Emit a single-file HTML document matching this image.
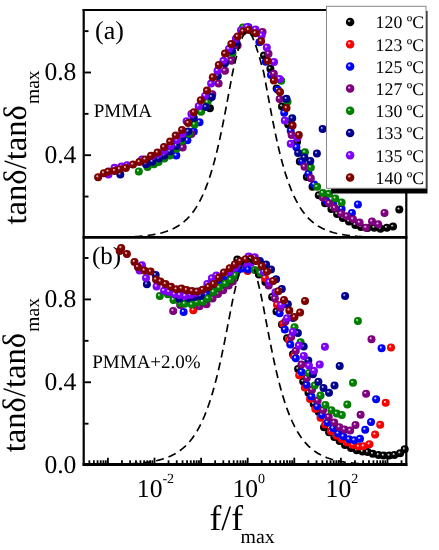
<!DOCTYPE html><html><head><meta charset="utf-8"><style>html,body{margin:0;padding:0;background:#fff;}svg{display:block;}text{font-family:"Liberation Serif",serif;fill:#000;text-rendering:geometricPrecision;}svg{will-change:transform;}</style></head><body>
<svg width="439" height="550" viewBox="0 0 439 550">
<defs>
<radialGradient id="g120" cx="0.5" cy="0.5" r="0.5" fx="0.36" fy="0.34"><stop offset="0" stop-color="#fff"/><stop offset="0.16" stop-color="#9a9a9a"/><stop offset="0.38" stop-color="#000000"/><stop offset="0.85" stop-color="#000000"/><stop offset="1" stop-color="#000000"/></radialGradient>
<radialGradient id="g123" cx="0.5" cy="0.5" r="0.5" fx="0.36" fy="0.34"><stop offset="0" stop-color="#fff"/><stop offset="0.16" stop-color="#ffb0b0"/><stop offset="0.38" stop-color="#ff0000"/><stop offset="0.85" stop-color="#ff0000"/><stop offset="1" stop-color="#d00000"/></radialGradient>
<radialGradient id="g125" cx="0.5" cy="0.5" r="0.5" fx="0.36" fy="0.34"><stop offset="0" stop-color="#fff"/><stop offset="0.16" stop-color="#b0b0ff"/><stop offset="0.38" stop-color="#0000ff"/><stop offset="0.85" stop-color="#0000ff"/><stop offset="1" stop-color="#0000d0"/></radialGradient>
<radialGradient id="g127" cx="0.5" cy="0.5" r="0.5" fx="0.36" fy="0.34"><stop offset="0" stop-color="#fff"/><stop offset="0.16" stop-color="#d090d0"/><stop offset="0.38" stop-color="#800080"/><stop offset="0.85" stop-color="#800080"/><stop offset="1" stop-color="#680068"/></radialGradient>
<radialGradient id="g130" cx="0.5" cy="0.5" r="0.5" fx="0.36" fy="0.34"><stop offset="0" stop-color="#fff"/><stop offset="0.16" stop-color="#90d090"/><stop offset="0.38" stop-color="#008000"/><stop offset="0.85" stop-color="#008000"/><stop offset="1" stop-color="#006400"/></radialGradient>
<radialGradient id="g133" cx="0.5" cy="0.5" r="0.5" fx="0.36" fy="0.34"><stop offset="0" stop-color="#fff"/><stop offset="0.16" stop-color="#8080d0"/><stop offset="0.38" stop-color="#000090"/><stop offset="0.85" stop-color="#000090"/><stop offset="1" stop-color="#000070"/></radialGradient>
<radialGradient id="g135" cx="0.5" cy="0.5" r="0.5" fx="0.36" fy="0.34"><stop offset="0" stop-color="#fff"/><stop offset="0.16" stop-color="#d0a0ff"/><stop offset="0.38" stop-color="#8000ff"/><stop offset="0.85" stop-color="#8000ff"/><stop offset="1" stop-color="#6800d0"/></radialGradient>
<radialGradient id="g140" cx="0.5" cy="0.5" r="0.5" fx="0.36" fy="0.34"><stop offset="0" stop-color="#fff"/><stop offset="0.16" stop-color="#d09090"/><stop offset="0.38" stop-color="#800000"/><stop offset="0.85" stop-color="#800000"/><stop offset="1" stop-color="#680000"/></radialGradient>
</defs>
<rect width="439" height="550" fill="#fff"/>
<g stroke="#000" fill="none">
<line x1="82.6" y1="9.9" x2="330" y2="9.9" stroke-width="2"/>
<line x1="83.7" y1="9" x2="83.7" y2="465.8" stroke-width="2.2"/>
<line x1="406.3" y1="9" x2="406.3" y2="465.8" stroke-width="2.2"/>
<line x1="82.6" y1="237.3" x2="407.4" y2="237.3" stroke-width="2.8"/>
<line x1="82.6" y1="464.5" x2="407.4" y2="464.5" stroke-width="2.8"/>
<line x1="89.36" y1="463.5" x2="89.36" y2="460.30" stroke-width="1.8"/>
<line x1="93.87" y1="463.5" x2="93.87" y2="460.30" stroke-width="1.8"/>
<line x1="97.56" y1="463.5" x2="97.56" y2="460.30" stroke-width="1.8"/>
<line x1="100.68" y1="463.5" x2="100.68" y2="460.30" stroke-width="1.8"/>
<line x1="103.38" y1="463.5" x2="103.38" y2="460.30" stroke-width="1.8"/>
<line x1="105.77" y1="463.5" x2="105.77" y2="460.30" stroke-width="1.8"/>
<line x1="107.90" y1="463.5" x2="107.90" y2="457.70" stroke-width="1.8"/>
<line x1="121.93" y1="463.5" x2="121.93" y2="460.30" stroke-width="1.8"/>
<line x1="130.13" y1="463.5" x2="130.13" y2="460.30" stroke-width="1.8"/>
<line x1="135.96" y1="463.5" x2="135.96" y2="460.30" stroke-width="1.8"/>
<line x1="140.47" y1="463.5" x2="140.47" y2="460.30" stroke-width="1.8"/>
<line x1="144.16" y1="463.5" x2="144.16" y2="460.30" stroke-width="1.8"/>
<line x1="147.28" y1="463.5" x2="147.28" y2="460.30" stroke-width="1.8"/>
<line x1="149.98" y1="463.5" x2="149.98" y2="460.30" stroke-width="1.8"/>
<line x1="152.37" y1="463.5" x2="152.37" y2="460.30" stroke-width="1.8"/>
<line x1="154.50" y1="463.5" x2="154.50" y2="457.70" stroke-width="1.8"/>
<line x1="168.53" y1="463.5" x2="168.53" y2="460.30" stroke-width="1.8"/>
<line x1="176.73" y1="463.5" x2="176.73" y2="460.30" stroke-width="1.8"/>
<line x1="182.56" y1="463.5" x2="182.56" y2="460.30" stroke-width="1.8"/>
<line x1="187.07" y1="463.5" x2="187.07" y2="460.30" stroke-width="1.8"/>
<line x1="190.76" y1="463.5" x2="190.76" y2="460.30" stroke-width="1.8"/>
<line x1="193.88" y1="463.5" x2="193.88" y2="460.30" stroke-width="1.8"/>
<line x1="196.58" y1="463.5" x2="196.58" y2="460.30" stroke-width="1.8"/>
<line x1="198.97" y1="463.5" x2="198.97" y2="460.30" stroke-width="1.8"/>
<line x1="201.10" y1="463.5" x2="201.10" y2="457.70" stroke-width="1.8"/>
<line x1="215.13" y1="463.5" x2="215.13" y2="460.30" stroke-width="1.8"/>
<line x1="223.33" y1="463.5" x2="223.33" y2="460.30" stroke-width="1.8"/>
<line x1="229.16" y1="463.5" x2="229.16" y2="460.30" stroke-width="1.8"/>
<line x1="233.67" y1="463.5" x2="233.67" y2="460.30" stroke-width="1.8"/>
<line x1="237.36" y1="463.5" x2="237.36" y2="460.30" stroke-width="1.8"/>
<line x1="240.48" y1="463.5" x2="240.48" y2="460.30" stroke-width="1.8"/>
<line x1="243.18" y1="463.5" x2="243.18" y2="460.30" stroke-width="1.8"/>
<line x1="245.57" y1="463.5" x2="245.57" y2="460.30" stroke-width="1.8"/>
<line x1="247.70" y1="463.5" x2="247.70" y2="457.70" stroke-width="1.8"/>
<line x1="261.73" y1="463.5" x2="261.73" y2="460.30" stroke-width="1.8"/>
<line x1="269.93" y1="463.5" x2="269.93" y2="460.30" stroke-width="1.8"/>
<line x1="275.76" y1="463.5" x2="275.76" y2="460.30" stroke-width="1.8"/>
<line x1="280.27" y1="463.5" x2="280.27" y2="460.30" stroke-width="1.8"/>
<line x1="283.96" y1="463.5" x2="283.96" y2="460.30" stroke-width="1.8"/>
<line x1="287.08" y1="463.5" x2="287.08" y2="460.30" stroke-width="1.8"/>
<line x1="289.78" y1="463.5" x2="289.78" y2="460.30" stroke-width="1.8"/>
<line x1="292.17" y1="463.5" x2="292.17" y2="460.30" stroke-width="1.8"/>
<line x1="294.30" y1="463.5" x2="294.30" y2="457.70" stroke-width="1.8"/>
<line x1="308.33" y1="463.5" x2="308.33" y2="460.30" stroke-width="1.8"/>
<line x1="316.53" y1="463.5" x2="316.53" y2="460.30" stroke-width="1.8"/>
<line x1="322.36" y1="463.5" x2="322.36" y2="460.30" stroke-width="1.8"/>
<line x1="326.87" y1="463.5" x2="326.87" y2="460.30" stroke-width="1.8"/>
<line x1="330.56" y1="463.5" x2="330.56" y2="460.30" stroke-width="1.8"/>
<line x1="333.68" y1="463.5" x2="333.68" y2="460.30" stroke-width="1.8"/>
<line x1="336.38" y1="463.5" x2="336.38" y2="460.30" stroke-width="1.8"/>
<line x1="338.77" y1="463.5" x2="338.77" y2="460.30" stroke-width="1.8"/>
<line x1="340.90" y1="463.5" x2="340.90" y2="457.70" stroke-width="1.8"/>
<line x1="354.93" y1="463.5" x2="354.93" y2="460.30" stroke-width="1.8"/>
<line x1="363.13" y1="463.5" x2="363.13" y2="460.30" stroke-width="1.8"/>
<line x1="368.96" y1="463.5" x2="368.96" y2="460.30" stroke-width="1.8"/>
<line x1="373.47" y1="463.5" x2="373.47" y2="460.30" stroke-width="1.8"/>
<line x1="377.16" y1="463.5" x2="377.16" y2="460.30" stroke-width="1.8"/>
<line x1="380.28" y1="463.5" x2="380.28" y2="460.30" stroke-width="1.8"/>
<line x1="382.98" y1="463.5" x2="382.98" y2="460.30" stroke-width="1.8"/>
<line x1="385.37" y1="463.5" x2="385.37" y2="460.30" stroke-width="1.8"/>
<line x1="387.50" y1="463.5" x2="387.50" y2="457.70" stroke-width="1.8"/>
<line x1="401.53" y1="463.5" x2="401.53" y2="460.30" stroke-width="1.8"/>
<line x1="84.5" y1="196.55" x2="88.50" y2="196.55" stroke-width="1.9"/>
<line x1="84.5" y1="155.20" x2="91.00" y2="155.20" stroke-width="1.9"/>
<line x1="84.5" y1="113.85" x2="88.50" y2="113.85" stroke-width="1.9"/>
<line x1="84.5" y1="72.50" x2="91.00" y2="72.50" stroke-width="1.9"/>
<line x1="84.5" y1="31.15" x2="88.50" y2="31.15" stroke-width="1.9"/>
<line x1="84.5" y1="465.10" x2="91.00" y2="465.10" stroke-width="1.9"/>
<line x1="84.5" y1="423.68" x2="88.50" y2="423.68" stroke-width="1.9"/>
<line x1="84.5" y1="382.26" x2="91.00" y2="382.26" stroke-width="1.9"/>
<line x1="84.5" y1="340.84" x2="88.50" y2="340.84" stroke-width="1.9"/>
<line x1="84.5" y1="299.42" x2="91.00" y2="299.42" stroke-width="1.9"/>
<line x1="84.5" y1="258.00" x2="88.50" y2="258.00" stroke-width="1.9"/>
</g>
<text x="76.4" y="162.70" font-size="25.6" text-anchor="end">0.4</text>
<text x="76.4" y="80.00" font-size="25.6" text-anchor="end">0.8</text>
<text x="76.4" y="472.60" font-size="25.6" text-anchor="end">0.0</text>
<text x="76.4" y="389.76" font-size="25.6" text-anchor="end">0.4</text>
<text x="76.4" y="306.92" font-size="25.6" text-anchor="end">0.8</text>
<text x="155.50" y="496.6" font-size="25.6" text-anchor="middle">10<tspan font-size="14" dy="-14">-2</tspan></text>
<text x="248.70" y="496.6" font-size="25.6" text-anchor="middle">10<tspan font-size="14" dy="-14">0</tspan></text>
<text x="341.90" y="496.6" font-size="25.6" text-anchor="middle">10<tspan font-size="14" dy="-14">2</tspan></text>
<text x="95" y="38.5" font-size="26">(a)</text>
<text x="91.9" y="263.9" font-size="25">(b)</text>
<text x="93.8" y="116.8" font-size="19">PMMA</text>
<text x="92.3" y="367.7" font-size="19">PMMA+2.0%</text>
<text x="209.5" y="529.6" font-size="35.5">f/f<tspan font-size="19.8" dx="-2.5" dy="13.3">max</tspan></text>
<text transform="translate(25.9,224.5) rotate(-90)" font-size="32.6">tanδ/tanδ<tspan font-size="19.5" dx="1.2" dy="13.4">max</tspan></text>
<text transform="translate(25.4,452.2) rotate(-90)" font-size="32.6">tanδ/tanδ<tspan font-size="19.5" dx="1.2" dy="13.4">max</tspan></text>
<circle cx="209.9" cy="108.2" r="4.0" fill="url(#g120)"/>
<circle cx="264" cy="55.6" r="4.0" fill="url(#g120)"/>
<circle cx="270.4" cy="68.7" r="4.0" fill="url(#g120)"/>
<circle cx="276.6" cy="88.6" r="4.0" fill="url(#g120)"/>
<circle cx="282" cy="106.4" r="4.0" fill="url(#g120)"/>
<circle cx="288.2" cy="124.6" r="4.0" fill="url(#g120)"/>
<circle cx="297" cy="142.1" r="4.0" fill="url(#g120)"/>
<circle cx="299.8" cy="161.4" r="4.0" fill="url(#g120)"/>
<circle cx="306.8" cy="177.1" r="4.0" fill="url(#g120)"/>
<circle cx="312.5" cy="186.8" r="4.0" fill="url(#g120)"/>
<circle cx="318.8" cy="195.3" r="4.0" fill="url(#g120)"/>
<circle cx="325.1" cy="203.2" r="4.0" fill="url(#g120)"/>
<circle cx="331.4" cy="208.9" r="4.0" fill="url(#g120)"/>
<circle cx="337.1" cy="214" r="4.0" fill="url(#g120)"/>
<circle cx="342.8" cy="218" r="4.0" fill="url(#g120)"/>
<circle cx="349" cy="221.4" r="4.0" fill="url(#g120)"/>
<circle cx="355.3" cy="224.9" r="4.0" fill="url(#g120)"/>
<circle cx="361" cy="227" r="4.0" fill="url(#g120)"/>
<circle cx="367.5" cy="228" r="4.0" fill="url(#g120)"/>
<circle cx="374.2" cy="227.7" r="4.0" fill="url(#g120)"/>
<circle cx="380.5" cy="228.8" r="4.0" fill="url(#g120)"/>
<circle cx="386.8" cy="227.7" r="4.0" fill="url(#g120)"/>
<circle cx="393" cy="226.6" r="4.0" fill="url(#g120)"/>
<circle cx="399.3" cy="209.5" r="4.0" fill="url(#g120)"/>
<circle cx="176.3" cy="155.5" r="4.0" fill="url(#g125)"/>
<circle cx="182.4" cy="147.1" r="4.0" fill="url(#g125)"/>
<circle cx="199.5" cy="122.2" r="4.0" fill="url(#g125)"/>
<circle cx="193.8" cy="131.5" r="4.0" fill="url(#g125)"/>
<circle cx="209.3" cy="98.5" r="4.0" fill="url(#g125)"/>
<circle cx="248.5" cy="27.2" r="4.0" fill="url(#g125)"/>
<circle cx="259.4" cy="42.3" r="4.0" fill="url(#g125)"/>
<circle cx="265.8" cy="61.8" r="4.0" fill="url(#g125)"/>
<circle cx="271" cy="75" r="4.0" fill="url(#g125)"/>
<circle cx="277.8" cy="89.7" r="4.0" fill="url(#g125)"/>
<circle cx="286.3" cy="98.8" r="4.0" fill="url(#g125)"/>
<circle cx="284.2" cy="112.7" r="4.0" fill="url(#g125)"/>
<circle cx="290.7" cy="130.7" r="4.0" fill="url(#g125)"/>
<circle cx="296.4" cy="147.2" r="4.0" fill="url(#g125)"/>
<circle cx="302.1" cy="161.4" r="4.0" fill="url(#g125)"/>
<circle cx="308.5" cy="173.7" r="4.0" fill="url(#g125)"/>
<circle cx="314.2" cy="184.5" r="4.0" fill="url(#g125)"/>
<circle cx="326.3" cy="201" r="4.0" fill="url(#g125)"/>
<circle cx="333" cy="203.8" r="4.0" fill="url(#g125)"/>
<circle cx="341.6" cy="208.9" r="4.0" fill="url(#g125)"/>
<circle cx="351.9" cy="212.9" r="4.0" fill="url(#g125)"/>
<circle cx="357.9" cy="204.4" r="4.0" fill="url(#g125)"/>
<circle cx="187.4" cy="140.3" r="4.0" fill="url(#g125)"/>
<circle cx="212.3" cy="94.3" r="4.0" fill="url(#g127)"/>
<circle cx="231.3" cy="57.6" r="4.0" fill="url(#g127)"/>
<circle cx="237.6" cy="45.6" r="4.0" fill="url(#g127)"/>
<circle cx="262.5" cy="32" r="4.0" fill="url(#g127)"/>
<circle cx="268.5" cy="53.7" r="4.0" fill="url(#g127)"/>
<circle cx="273.8" cy="73.8" r="4.0" fill="url(#g127)"/>
<circle cx="279.6" cy="98.9" r="4.0" fill="url(#g127)"/>
<circle cx="291.6" cy="134.9" r="4.0" fill="url(#g127)"/>
<circle cx="304.5" cy="166.7" r="4.0" fill="url(#g127)"/>
<circle cx="310.8" cy="178.2" r="4.0" fill="url(#g127)"/>
<circle cx="322.8" cy="197.5" r="4.0" fill="url(#g127)"/>
<circle cx="329.1" cy="203.2" r="4.0" fill="url(#g127)"/>
<circle cx="334.8" cy="208" r="4.0" fill="url(#g127)"/>
<circle cx="341.1" cy="213.5" r="4.0" fill="url(#g127)"/>
<circle cx="346.8" cy="216.3" r="4.0" fill="url(#g127)"/>
<circle cx="353" cy="219.2" r="4.0" fill="url(#g127)"/>
<circle cx="359.6" cy="222.6" r="4.0" fill="url(#g127)"/>
<circle cx="366" cy="227.7" r="4.0" fill="url(#g127)"/>
<circle cx="372" cy="221.4" r="4.0" fill="url(#g127)"/>
<circle cx="378.2" cy="224.3" r="4.0" fill="url(#g127)"/>
<circle cx="384.5" cy="212.9" r="4.0" fill="url(#g127)"/>
<circle cx="218.6" cy="83.6" r="4.0" fill="url(#g127)"/>
<circle cx="225" cy="70.8" r="4.0" fill="url(#g127)"/>
<circle cx="231.4" cy="60.8" r="4.0" fill="url(#g127)"/>
<circle cx="182.6" cy="147.5" r="4.0" fill="url(#g127)"/>
<circle cx="191.4" cy="133.9" r="4.0" fill="url(#g127)"/>
<circle cx="138.8" cy="171.4" r="4.0" fill="url(#g130)"/>
<circle cx="147.5" cy="166.9" r="4.0" fill="url(#g130)"/>
<circle cx="153.9" cy="164.2" r="4.0" fill="url(#g130)"/>
<circle cx="158.5" cy="162.1" r="4.0" fill="url(#g130)"/>
<circle cx="164.3" cy="158.6" r="4.0" fill="url(#g130)"/>
<circle cx="169.9" cy="155.5" r="4.0" fill="url(#g130)"/>
<circle cx="176.3" cy="149.1" r="4.0" fill="url(#g130)"/>
<circle cx="181.8" cy="141.1" r="4.0" fill="url(#g130)"/>
<circle cx="189" cy="133.9" r="4.0" fill="url(#g130)"/>
<circle cx="194.6" cy="124.4" r="4.0" fill="url(#g130)"/>
<circle cx="201.1" cy="111.8" r="4.0" fill="url(#g130)"/>
<circle cx="207.5" cy="102.3" r="4.0" fill="url(#g130)"/>
<circle cx="232.5" cy="53" r="4.0" fill="url(#g130)"/>
<circle cx="243" cy="27.5" r="4.0" fill="url(#g130)"/>
<circle cx="281.2" cy="80.8" r="4.0" fill="url(#g130)"/>
<circle cx="287.5" cy="101.7" r="4.0" fill="url(#g130)"/>
<circle cx="304.9" cy="152.3" r="4.0" fill="url(#g130)"/>
<circle cx="310.8" cy="167.4" r="4.0" fill="url(#g130)"/>
<circle cx="317.1" cy="186.8" r="4.0" fill="url(#g130)"/>
<circle cx="322.8" cy="193" r="4.0" fill="url(#g130)"/>
<circle cx="329" cy="193.8" r="4.0" fill="url(#g130)"/>
<circle cx="335.3" cy="198.4" r="4.0" fill="url(#g130)"/>
<circle cx="341.6" cy="202.4" r="4.0" fill="url(#g130)"/>
<circle cx="120.3" cy="174.6" r="4.0" fill="url(#g133)"/>
<circle cx="146" cy="164.2" r="4.0" fill="url(#g133)"/>
<circle cx="164.3" cy="155.5" r="4.0" fill="url(#g133)"/>
<circle cx="169.9" cy="151.5" r="4.0" fill="url(#g133)"/>
<circle cx="176.3" cy="145.9" r="4.0" fill="url(#g133)"/>
<circle cx="188.2" cy="131.5" r="4.0" fill="url(#g133)"/>
<circle cx="193.8" cy="118" r="4.0" fill="url(#g133)"/>
<circle cx="205.9" cy="107" r="4.0" fill="url(#g133)"/>
<circle cx="211.8" cy="97" r="4.0" fill="url(#g133)"/>
<circle cx="225" cy="63.2" r="4.0" fill="url(#g133)"/>
<circle cx="231.9" cy="50.8" r="4.0" fill="url(#g133)"/>
<circle cx="236.4" cy="42.2" r="4.0" fill="url(#g133)"/>
<circle cx="292.2" cy="118.3" r="4.0" fill="url(#g133)"/>
<circle cx="322.6" cy="129" r="4.0" fill="url(#g133)"/>
<circle cx="298.1" cy="152.9" r="4.0" fill="url(#g133)"/>
<circle cx="304.4" cy="157.5" r="4.0" fill="url(#g133)"/>
<circle cx="310.3" cy="161.1" r="4.0" fill="url(#g133)"/>
<circle cx="316.9" cy="153.5" r="4.0" fill="url(#g133)"/>
<circle cx="217.8" cy="76" r="4.0" fill="url(#g133)"/>
<circle cx="152.3" cy="161.8" r="4.0" fill="url(#g133)"/>
<circle cx="158.7" cy="158.6" r="4.0" fill="url(#g133)"/>
<circle cx="181.8" cy="137.9" r="4.0" fill="url(#g133)"/>
<circle cx="286.4" cy="99" r="4.0" fill="url(#g133)"/>
<circle cx="108.5" cy="174.5" r="4.0" fill="url(#g135)"/>
<circle cx="114.5" cy="167.8" r="4.0" fill="url(#g135)"/>
<circle cx="121.5" cy="166.6" r="4.0" fill="url(#g135)"/>
<circle cx="127" cy="165.3" r="4.0" fill="url(#g135)"/>
<circle cx="142" cy="159.4" r="4.0" fill="url(#g135)"/>
<circle cx="152.3" cy="156.3" r="4.0" fill="url(#g135)"/>
<circle cx="164.3" cy="150.7" r="4.0" fill="url(#g135)"/>
<circle cx="177" cy="140.3" r="4.0" fill="url(#g135)"/>
<circle cx="182.6" cy="133.9" r="4.0" fill="url(#g135)"/>
<circle cx="186.6" cy="121.2" r="4.0" fill="url(#g135)"/>
<circle cx="198.7" cy="106.3" r="4.0" fill="url(#g135)"/>
<circle cx="205.1" cy="95.9" r="4.0" fill="url(#g135)"/>
<circle cx="223.4" cy="60.8" r="4.0" fill="url(#g135)"/>
<circle cx="229" cy="49" r="4.0" fill="url(#g135)"/>
<circle cx="235.9" cy="38.8" r="4.0" fill="url(#g135)"/>
<circle cx="241" cy="30.3" r="4.0" fill="url(#g135)"/>
<circle cx="247.3" cy="26.9" r="4.0" fill="url(#g135)"/>
<circle cx="255.5" cy="29.5" r="4.0" fill="url(#g135)"/>
<circle cx="261.6" cy="35.5" r="4.0" fill="url(#g135)"/>
<circle cx="266.8" cy="47.5" r="4.0" fill="url(#g135)"/>
<circle cx="274" cy="62" r="4.0" fill="url(#g135)"/>
<circle cx="279.5" cy="78.9" r="4.0" fill="url(#g135)"/>
<circle cx="284.8" cy="120.6" r="4.0" fill="url(#g135)"/>
<circle cx="290.7" cy="143.8" r="4.0" fill="url(#g135)"/>
<circle cx="297.4" cy="138" r="4.0" fill="url(#g135)"/>
<circle cx="211.1" cy="83.6" r="4.0" fill="url(#g135)"/>
<circle cx="217.5" cy="70.8" r="4.0" fill="url(#g135)"/>
<circle cx="158.7" cy="153.9" r="4.0" fill="url(#g135)"/>
<circle cx="170.7" cy="145.9" r="4.0" fill="url(#g135)"/>
<circle cx="191.4" cy="114" r="4.0" fill="url(#g135)"/>
<circle cx="98.1" cy="177.2" r="4.0" fill="url(#g140)"/>
<circle cx="103.8" cy="173.2" r="4.0" fill="url(#g140)"/>
<circle cx="108.3" cy="171.5" r="4.0" fill="url(#g140)"/>
<circle cx="114.8" cy="170.9" r="4.0" fill="url(#g140)"/>
<circle cx="119.7" cy="169.2" r="4.0" fill="url(#g140)"/>
<circle cx="125.8" cy="168" r="4.0" fill="url(#g140)"/>
<circle cx="133" cy="164.5" r="4.0" fill="url(#g140)"/>
<circle cx="139.4" cy="162.1" r="4.0" fill="url(#g140)"/>
<circle cx="145.2" cy="159.4" r="4.0" fill="url(#g140)"/>
<circle cx="151" cy="155.7" r="4.0" fill="url(#g140)"/>
<circle cx="157.5" cy="152.5" r="4.0" fill="url(#g140)"/>
<circle cx="164" cy="147.1" r="4.0" fill="url(#g140)"/>
<circle cx="170.1" cy="141.6" r="4.0" fill="url(#g140)"/>
<circle cx="175.7" cy="135.6" r="4.0" fill="url(#g140)"/>
<circle cx="182" cy="129.9" r="4.0" fill="url(#g140)"/>
<circle cx="188.2" cy="123" r="4.0" fill="url(#g140)"/>
<circle cx="193.9" cy="112.2" r="4.0" fill="url(#g140)"/>
<circle cx="200.8" cy="100.3" r="4.0" fill="url(#g140)"/>
<circle cx="207" cy="90.6" r="4.0" fill="url(#g140)"/>
<circle cx="212.8" cy="77.3" r="4.0" fill="url(#g140)"/>
<circle cx="218.8" cy="65" r="4.0" fill="url(#g140)"/>
<circle cx="225" cy="53.6" r="4.0" fill="url(#g140)"/>
<circle cx="231.3" cy="43.9" r="4.0" fill="url(#g140)"/>
<circle cx="237.6" cy="36.5" r="4.0" fill="url(#g140)"/>
<circle cx="243" cy="31.4" r="4.0" fill="url(#g140)"/>
<circle cx="248.6" cy="30" r="4.0" fill="url(#g140)"/>
<circle cx="255.4" cy="33.2" r="4.0" fill="url(#g140)"/>
<circle cx="261.1" cy="41.2" r="4.0" fill="url(#g140)"/>
<circle cx="267.7" cy="61" r="4.0" fill="url(#g140)"/>
<circle cx="273.8" cy="80.6" r="4.0" fill="url(#g140)"/>
<circle cx="280" cy="92" r="4.0" fill="url(#g140)"/>
<circle cx="286.5" cy="108.1" r="4.0" fill="url(#g140)"/>
<circle cx="292.6" cy="125.6" r="4.0" fill="url(#g140)"/>
<circle cx="298.8" cy="135.1" r="4.0" fill="url(#g140)"/>
<circle cx="237.3" cy="259.6" r="4.0" fill="url(#g120)"/>
<circle cx="259" cy="274.6" r="4.0" fill="url(#g120)"/>
<circle cx="265.4" cy="282" r="4.0" fill="url(#g120)"/>
<circle cx="272.1" cy="296.9" r="4.0" fill="url(#g120)"/>
<circle cx="276.5" cy="311.5" r="4.0" fill="url(#g120)"/>
<circle cx="282" cy="324.5" r="4.0" fill="url(#g120)"/>
<circle cx="287.1" cy="338.2" r="4.0" fill="url(#g120)"/>
<circle cx="293" cy="354.2" r="4.0" fill="url(#g120)"/>
<circle cx="298.1" cy="369" r="4.0" fill="url(#g120)"/>
<circle cx="303.2" cy="381.5" r="4.0" fill="url(#g120)"/>
<circle cx="308.5" cy="392.7" r="4.0" fill="url(#g120)"/>
<circle cx="313.7" cy="404" r="4.0" fill="url(#g120)"/>
<circle cx="318.8" cy="412" r="4.0" fill="url(#g120)"/>
<circle cx="324" cy="427.2" r="4.0" fill="url(#g120)"/>
<circle cx="329.1" cy="432.3" r="4.0" fill="url(#g120)"/>
<circle cx="334.3" cy="437" r="4.0" fill="url(#g120)"/>
<circle cx="339.6" cy="441" r="4.0" fill="url(#g120)"/>
<circle cx="345" cy="445" r="4.0" fill="url(#g120)"/>
<circle cx="351" cy="448" r="4.0" fill="url(#g120)"/>
<circle cx="356.7" cy="450.3" r="4.0" fill="url(#g120)"/>
<circle cx="362.6" cy="451.6" r="4.0" fill="url(#g120)"/>
<circle cx="367.7" cy="452.1" r="4.0" fill="url(#g120)"/>
<circle cx="372.8" cy="453.8" r="4.0" fill="url(#g120)"/>
<circle cx="378.5" cy="455" r="4.0" fill="url(#g120)"/>
<circle cx="383.6" cy="455.6" r="4.0" fill="url(#g120)"/>
<circle cx="389.3" cy="455.6" r="4.0" fill="url(#g120)"/>
<circle cx="394.4" cy="455" r="4.0" fill="url(#g120)"/>
<circle cx="400.1" cy="453.3" r="4.0" fill="url(#g120)"/>
<circle cx="404.7" cy="449.3" r="4.0" fill="url(#g120)"/>
<circle cx="193.3" cy="310.2" r="4.0" fill="url(#g123)"/>
<circle cx="247.6" cy="271" r="4.0" fill="url(#g123)"/>
<circle cx="265" cy="278" r="4.0" fill="url(#g123)"/>
<circle cx="277" cy="304.7" r="4.0" fill="url(#g123)"/>
<circle cx="283.1" cy="323.9" r="4.0" fill="url(#g123)"/>
<circle cx="288.8" cy="339.9" r="4.0" fill="url(#g123)"/>
<circle cx="294" cy="356" r="4.0" fill="url(#g123)"/>
<circle cx="299.2" cy="375.3" r="4.0" fill="url(#g123)"/>
<circle cx="304.8" cy="387.5" r="4.0" fill="url(#g123)"/>
<circle cx="310" cy="399" r="4.0" fill="url(#g123)"/>
<circle cx="315.3" cy="409" r="4.0" fill="url(#g123)"/>
<circle cx="320.5" cy="417.7" r="4.0" fill="url(#g123)"/>
<circle cx="325.1" cy="424.6" r="4.0" fill="url(#g123)"/>
<circle cx="330.8" cy="431.2" r="4.0" fill="url(#g123)"/>
<circle cx="336.5" cy="435.8" r="4.0" fill="url(#g123)"/>
<circle cx="341.6" cy="439.2" r="4.0" fill="url(#g123)"/>
<circle cx="347.3" cy="442.6" r="4.0" fill="url(#g123)"/>
<circle cx="353" cy="444.9" r="4.0" fill="url(#g123)"/>
<circle cx="358.6" cy="446.6" r="4.0" fill="url(#g123)"/>
<circle cx="363.5" cy="446.2" r="4.0" fill="url(#g123)"/>
<circle cx="369.4" cy="444.2" r="4.0" fill="url(#g123)"/>
<circle cx="375.1" cy="434.5" r="4.0" fill="url(#g123)"/>
<circle cx="380.2" cy="424.8" r="4.0" fill="url(#g123)"/>
<circle cx="385.7" cy="402.8" r="4.0" fill="url(#g123)"/>
<circle cx="391" cy="347.4" r="4.0" fill="url(#g123)"/>
<circle cx="183.6" cy="311.9" r="4.0" fill="url(#g125)"/>
<circle cx="189.7" cy="299" r="4.0" fill="url(#g125)"/>
<circle cx="195" cy="300" r="4.0" fill="url(#g125)"/>
<circle cx="248" cy="269.5" r="4.0" fill="url(#g125)"/>
<circle cx="287.1" cy="304.6" r="4.0" fill="url(#g125)"/>
<circle cx="279.6" cy="313.2" r="4.0" fill="url(#g125)"/>
<circle cx="284.8" cy="329.6" r="4.0" fill="url(#g125)"/>
<circle cx="290.3" cy="344.5" r="4.0" fill="url(#g125)"/>
<circle cx="295.8" cy="358.2" r="4.0" fill="url(#g125)"/>
<circle cx="301.5" cy="371.9" r="4.0" fill="url(#g125)"/>
<circle cx="306.5" cy="384.8" r="4.0" fill="url(#g125)"/>
<circle cx="311.4" cy="396.6" r="4.0" fill="url(#g125)"/>
<circle cx="317.1" cy="406.3" r="4.0" fill="url(#g125)"/>
<circle cx="322" cy="415" r="4.0" fill="url(#g125)"/>
<circle cx="327.4" cy="422.5" r="4.0" fill="url(#g125)"/>
<circle cx="333.1" cy="428.3" r="4.0" fill="url(#g125)"/>
<circle cx="338.2" cy="433.5" r="4.0" fill="url(#g125)"/>
<circle cx="343.3" cy="436.3" r="4.0" fill="url(#g125)"/>
<circle cx="349" cy="439.2" r="4.0" fill="url(#g125)"/>
<circle cx="354.2" cy="440.3" r="4.0" fill="url(#g125)"/>
<circle cx="360" cy="438.8" r="4.0" fill="url(#g125)"/>
<circle cx="365.2" cy="429.7" r="4.0" fill="url(#g125)"/>
<circle cx="371" cy="422" r="4.0" fill="url(#g125)"/>
<circle cx="376.1" cy="399.2" r="4.0" fill="url(#g125)"/>
<circle cx="381.6" cy="348.3" r="4.0" fill="url(#g125)"/>
<circle cx="206.2" cy="294.3" r="4.0" fill="url(#g125)"/>
<circle cx="211.5" cy="289" r="4.0" fill="url(#g125)"/>
<circle cx="216.4" cy="284" r="4.0" fill="url(#g125)"/>
<circle cx="221.8" cy="279.7" r="4.0" fill="url(#g125)"/>
<circle cx="227.3" cy="276.3" r="4.0" fill="url(#g125)"/>
<circle cx="232.8" cy="272.9" r="4.0" fill="url(#g125)"/>
<circle cx="238.2" cy="270.1" r="4.0" fill="url(#g125)"/>
<circle cx="242.5" cy="268.5" r="4.0" fill="url(#g125)"/>
<circle cx="173.2" cy="311" r="4.0" fill="url(#g127)"/>
<circle cx="180.2" cy="305.1" r="4.0" fill="url(#g127)"/>
<circle cx="268.7" cy="285.5" r="4.0" fill="url(#g127)"/>
<circle cx="274.9" cy="298.6" r="4.0" fill="url(#g127)"/>
<circle cx="280.6" cy="307.7" r="4.0" fill="url(#g127)"/>
<circle cx="285.4" cy="321.6" r="4.0" fill="url(#g127)"/>
<circle cx="291.1" cy="337" r="4.0" fill="url(#g127)"/>
<circle cx="295.8" cy="350.8" r="4.0" fill="url(#g127)"/>
<circle cx="301.5" cy="364.5" r="4.0" fill="url(#g127)"/>
<circle cx="306.8" cy="378" r="4.0" fill="url(#g127)"/>
<circle cx="312" cy="389.8" r="4.0" fill="url(#g127)"/>
<circle cx="317.7" cy="400.6" r="4.0" fill="url(#g127)"/>
<circle cx="323.1" cy="410" r="4.0" fill="url(#g127)"/>
<circle cx="328.7" cy="417" r="4.0" fill="url(#g127)"/>
<circle cx="334.2" cy="422.5" r="4.0" fill="url(#g127)"/>
<circle cx="339.4" cy="427.2" r="4.0" fill="url(#g127)"/>
<circle cx="344.5" cy="429.5" r="4.0" fill="url(#g127)"/>
<circle cx="350.2" cy="430.6" r="4.0" fill="url(#g127)"/>
<circle cx="355.5" cy="425" r="4.0" fill="url(#g127)"/>
<circle cx="360.6" cy="414.8" r="4.0" fill="url(#g127)"/>
<circle cx="366.1" cy="393.7" r="4.0" fill="url(#g127)"/>
<circle cx="371.5" cy="339.2" r="4.0" fill="url(#g127)"/>
<circle cx="199.5" cy="306.3" r="4.0" fill="url(#g127)"/>
<circle cx="206.5" cy="304.3" r="4.0" fill="url(#g127)"/>
<circle cx="212.5" cy="298.5" r="4.0" fill="url(#g127)"/>
<circle cx="218" cy="294" r="4.0" fill="url(#g127)"/>
<circle cx="223.2" cy="290.3" r="4.0" fill="url(#g127)"/>
<circle cx="228.7" cy="285.5" r="4.0" fill="url(#g127)"/>
<circle cx="232.8" cy="281.4" r="4.0" fill="url(#g127)"/>
<circle cx="159.8" cy="296" r="4.0" fill="url(#g130)"/>
<circle cx="167.9" cy="294.2" r="4.0" fill="url(#g130)"/>
<circle cx="173.5" cy="299.9" r="4.0" fill="url(#g130)"/>
<circle cx="180.4" cy="303.3" r="4.0" fill="url(#g130)"/>
<circle cx="184.6" cy="303.8" r="4.0" fill="url(#g130)"/>
<circle cx="191.8" cy="304.5" r="4.0" fill="url(#g130)"/>
<circle cx="197.1" cy="302.3" r="4.0" fill="url(#g130)"/>
<circle cx="202.8" cy="301.7" r="4.0" fill="url(#g130)"/>
<circle cx="254.8" cy="270" r="4.0" fill="url(#g130)"/>
<circle cx="260.3" cy="273" r="4.0" fill="url(#g130)"/>
<circle cx="294.5" cy="327.3" r="4.0" fill="url(#g130)"/>
<circle cx="300.6" cy="342.2" r="4.0" fill="url(#g130)"/>
<circle cx="308.9" cy="373" r="4.0" fill="url(#g130)"/>
<circle cx="314.7" cy="385.5" r="4.0" fill="url(#g130)"/>
<circle cx="320.5" cy="395.5" r="4.0" fill="url(#g130)"/>
<circle cx="325.4" cy="405" r="4.0" fill="url(#g130)"/>
<circle cx="331.4" cy="410.2" r="4.0" fill="url(#g130)"/>
<circle cx="336.7" cy="413.6" r="4.0" fill="url(#g130)"/>
<circle cx="341.8" cy="415.1" r="4.0" fill="url(#g130)"/>
<circle cx="347.3" cy="404.5" r="4.0" fill="url(#g130)"/>
<circle cx="353" cy="382.8" r="4.0" fill="url(#g130)"/>
<circle cx="357.9" cy="321" r="4.0" fill="url(#g130)"/>
<circle cx="207.9" cy="298.3" r="4.0" fill="url(#g130)"/>
<circle cx="213.5" cy="292" r="4.0" fill="url(#g130)"/>
<circle cx="219.1" cy="287.6" r="4.0" fill="url(#g130)"/>
<circle cx="225.3" cy="283.5" r="4.0" fill="url(#g130)"/>
<circle cx="230.7" cy="279.7" r="4.0" fill="url(#g130)"/>
<circle cx="235.5" cy="275.3" r="4.0" fill="url(#g130)"/>
<circle cx="155.7" cy="274.9" r="4.0" fill="url(#g133)"/>
<circle cx="146.9" cy="284.3" r="4.0" fill="url(#g133)"/>
<circle cx="179.3" cy="298.7" r="4.0" fill="url(#g133)"/>
<circle cx="188.2" cy="297.7" r="4.0" fill="url(#g133)"/>
<circle cx="194.6" cy="297.1" r="4.0" fill="url(#g133)"/>
<circle cx="200.5" cy="296" r="4.0" fill="url(#g133)"/>
<circle cx="259.9" cy="261" r="4.0" fill="url(#g133)"/>
<circle cx="266.1" cy="264.4" r="4.0" fill="url(#g133)"/>
<circle cx="271" cy="269.6" r="4.0" fill="url(#g133)"/>
<circle cx="276.1" cy="279.2" r="4.0" fill="url(#g133)"/>
<circle cx="281.8" cy="288.9" r="4.0" fill="url(#g133)"/>
<circle cx="287.8" cy="304.2" r="4.0" fill="url(#g133)"/>
<circle cx="293" cy="318" r="4.0" fill="url(#g133)"/>
<circle cx="297.9" cy="333" r="4.0" fill="url(#g133)"/>
<circle cx="303.7" cy="346.5" r="4.0" fill="url(#g133)"/>
<circle cx="308.3" cy="360.5" r="4.0" fill="url(#g133)"/>
<circle cx="312.9" cy="374.2" r="4.0" fill="url(#g133)"/>
<circle cx="318.4" cy="381.7" r="4.0" fill="url(#g133)"/>
<circle cx="323.5" cy="388" r="4.0" fill="url(#g133)"/>
<circle cx="329" cy="392.7" r="4.0" fill="url(#g133)"/>
<circle cx="334.5" cy="385.4" r="4.0" fill="url(#g133)"/>
<circle cx="339.7" cy="366" r="4.0" fill="url(#g133)"/>
<circle cx="345.1" cy="296" r="4.0" fill="url(#g133)"/>
<circle cx="141.9" cy="265.3" r="4.0" fill="url(#g135)"/>
<circle cx="139.6" cy="270.5" r="4.0" fill="url(#g135)"/>
<circle cx="146" cy="278" r="4.0" fill="url(#g135)"/>
<circle cx="156.6" cy="286.5" r="4.0" fill="url(#g135)"/>
<circle cx="164" cy="290.8" r="4.0" fill="url(#g135)"/>
<circle cx="169" cy="291.9" r="4.0" fill="url(#g135)"/>
<circle cx="174.7" cy="294.2" r="4.0" fill="url(#g135)"/>
<circle cx="179.8" cy="295" r="4.0" fill="url(#g135)"/>
<circle cx="185.2" cy="296" r="4.0" fill="url(#g135)"/>
<circle cx="190.5" cy="295" r="4.0" fill="url(#g135)"/>
<circle cx="196" cy="293" r="4.0" fill="url(#g135)"/>
<circle cx="201.5" cy="290.5" r="4.0" fill="url(#g135)"/>
<circle cx="207.3" cy="284" r="4.0" fill="url(#g135)"/>
<circle cx="211.9" cy="278.3" r="4.0" fill="url(#g135)"/>
<circle cx="216.4" cy="275.5" r="4.0" fill="url(#g135)"/>
<circle cx="229.5" cy="271.8" r="4.0" fill="url(#g135)"/>
<circle cx="234.5" cy="268" r="4.0" fill="url(#g135)"/>
<circle cx="240" cy="264.6" r="4.0" fill="url(#g135)"/>
<circle cx="245.5" cy="263" r="4.0" fill="url(#g135)"/>
<circle cx="251" cy="262.8" r="4.0" fill="url(#g135)"/>
<circle cx="248.7" cy="256.6" r="4.0" fill="url(#g135)"/>
<circle cx="254.8" cy="257.2" r="4.0" fill="url(#g135)"/>
<circle cx="264" cy="272" r="4.0" fill="url(#g135)"/>
<circle cx="269.2" cy="282.1" r="4.0" fill="url(#g135)"/>
<circle cx="275.5" cy="292.3" r="4.0" fill="url(#g135)"/>
<circle cx="281.3" cy="305" r="4.0" fill="url(#g135)"/>
<circle cx="287.1" cy="318.2" r="4.0" fill="url(#g135)"/>
<circle cx="292.8" cy="331.9" r="4.0" fill="url(#g135)"/>
<circle cx="298.8" cy="345.6" r="4.0" fill="url(#g135)"/>
<circle cx="303.8" cy="355.9" r="4.0" fill="url(#g135)"/>
<circle cx="308.9" cy="365.6" r="4.0" fill="url(#g135)"/>
<circle cx="314" cy="370.8" r="4.0" fill="url(#g135)"/>
<circle cx="319.7" cy="364.5" r="4.0" fill="url(#g135)"/>
<circle cx="324.9" cy="346.8" r="4.0" fill="url(#g135)"/>
<circle cx="119.7" cy="251" r="4.0" fill="url(#g140)"/>
<circle cx="121.2" cy="248" r="4.0" fill="url(#g140)"/>
<circle cx="126.9" cy="254" r="4.0" fill="url(#g140)"/>
<circle cx="134.5" cy="261.9" r="4.0" fill="url(#g140)"/>
<circle cx="137.9" cy="267" r="4.0" fill="url(#g140)"/>
<circle cx="144.4" cy="270.4" r="4.0" fill="url(#g140)"/>
<circle cx="150.6" cy="271.5" r="4.0" fill="url(#g140)"/>
<circle cx="156" cy="279.5" r="4.0" fill="url(#g140)"/>
<circle cx="160.4" cy="281.4" r="4.0" fill="url(#g140)"/>
<circle cx="165.5" cy="284" r="4.0" fill="url(#g140)"/>
<circle cx="171" cy="286.8" r="4.0" fill="url(#g140)"/>
<circle cx="176.3" cy="289.3" r="4.0" fill="url(#g140)"/>
<circle cx="181.5" cy="288.5" r="4.0" fill="url(#g140)"/>
<circle cx="186.6" cy="290" r="4.0" fill="url(#g140)"/>
<circle cx="192" cy="291" r="4.0" fill="url(#g140)"/>
<circle cx="197.1" cy="291.4" r="4.0" fill="url(#g140)"/>
<circle cx="202.8" cy="289.7" r="4.0" fill="url(#g140)"/>
<circle cx="208.5" cy="286.9" r="4.0" fill="url(#g140)"/>
<circle cx="213.6" cy="284" r="4.0" fill="url(#g140)"/>
<circle cx="218.7" cy="277.8" r="4.0" fill="url(#g140)"/>
<circle cx="223.9" cy="272.5" r="4.0" fill="url(#g140)"/>
<circle cx="229.7" cy="268.3" r="4.0" fill="url(#g140)"/>
<circle cx="234.8" cy="264.4" r="4.0" fill="url(#g140)"/>
<circle cx="240.3" cy="261" r="4.0" fill="url(#g140)"/>
<circle cx="245.6" cy="259.2" r="4.0" fill="url(#g140)"/>
<circle cx="250.8" cy="258.7" r="4.0" fill="url(#g140)"/>
<circle cx="256.4" cy="261" r="4.0" fill="url(#g140)"/>
<circle cx="261.7" cy="266.1" r="4.0" fill="url(#g140)"/>
<circle cx="267" cy="271.5" r="4.0" fill="url(#g140)"/>
<circle cx="273.2" cy="280.9" r="4.0" fill="url(#g140)"/>
<circle cx="278.3" cy="291.2" r="4.0" fill="url(#g140)"/>
<circle cx="284" cy="299.9" r="4.0" fill="url(#g140)"/>
<circle cx="289.3" cy="310.4" r="4.0" fill="url(#g140)"/>
<circle cx="294.5" cy="317.1" r="4.0" fill="url(#g140)"/>
<circle cx="300.1" cy="312.4" r="4.0" fill="url(#g140)"/>
<circle cx="305" cy="301" r="4.0" fill="url(#g140)"/>
<clipPath id="c1"><rect x="84" y="10" width="322" height="226.5"/></clipPath><clipPath id="c2"><rect x="84" y="238" width="322" height="225.5"/></clipPath>
<path clip-path="url(#c1)" d="M121.65,237.28 L123.90,237.20 L126.16,237.11 L128.42,237.02 L130.67,236.91 L132.93,236.78 L135.19,236.64 L137.44,236.48 L139.70,236.30 L141.96,236.10 L144.21,235.88 L146.47,235.63 L148.73,235.34 L150.98,235.02 L153.24,234.66 L155.50,234.25 L157.75,233.80 L160.01,233.28 L162.27,232.70 L164.52,232.05 L166.78,231.32 L169.04,230.50 L171.30,229.57 L173.56,228.52 L175.81,227.35 L178.07,226.03 L180.33,224.54 L182.60,222.86 L184.86,220.98 L187.12,218.86 L189.39,216.47 L191.66,213.78 L193.94,210.76 L196.21,207.36 L198.50,203.53 L200.79,199.22 L203.09,194.38 L205.41,188.92 L207.74,182.78 L210.09,175.88 L210.09,175.88 L210.87,173.43 L211.62,170.98 L212.35,168.53 L213.06,166.08 L213.74,163.63 L214.41,161.18 L215.05,158.73 L215.69,156.28 L216.30,153.83 L216.91,151.38 L217.49,148.93 L218.07,146.48 L218.64,144.03 L219.19,141.58 L219.74,139.13 L220.27,136.68 L220.80,134.23 L221.31,131.78 L221.82,129.34 L222.33,126.89 L222.82,124.44 L223.31,121.99 L223.80,119.54 L224.28,117.09 L224.75,114.64 L225.23,112.19 L225.69,109.74 L226.16,107.29 L226.62,104.84 L227.08,102.39 L227.53,99.94 L227.99,97.49 L228.44,95.04 L228.89,92.59 L229.35,90.14 L229.80,87.69 L230.25,85.24 L230.71,82.80 L231.17,80.35 L231.63,77.90 L232.09,75.45 L232.56,73.00 L233.10,70.55 L233.66,68.10 L234.23,65.65 L234.81,63.20 L235.40,60.75 L236.00,58.30 L236.62,55.85 L237.25,53.40 L237.91,50.95 L238.59,48.50 L239.31,46.05 L240.07,43.60 L240.89,41.15 L241.80,38.71 L242.84,36.26 L244.13,33.81 L246.44,31.36 L247.30,31.15 L247.30,31.15 L248.17,31.36 L250.57,33.81 L251.97,36.26 L253.11,38.71 L254.12,41.15 L255.05,43.60 L255.91,46.05 L256.73,48.50 L257.52,50.95 L258.28,53.40 L259.02,55.85 L259.75,58.30 L260.45,60.75 L261.15,63.20 L261.83,65.65 L262.51,68.10 L263.17,70.55 L263.80,73.00 L264.26,75.45 L264.72,77.90 L265.18,80.35 L265.64,82.80 L266.09,85.24 L266.55,87.69 L267.00,90.14 L267.45,92.59 L267.90,95.04 L268.35,97.49 L268.81,99.94 L269.26,102.39 L269.72,104.84 L270.18,107.29 L270.64,109.74 L271.10,112.19 L271.57,114.64 L272.05,117.09 L272.53,119.54 L273.01,121.99 L273.50,124.44 L273.99,126.89 L274.49,129.34 L275.00,131.78 L275.52,134.23 L276.04,136.68 L276.58,139.13 L277.12,141.58 L277.67,144.03 L278.23,146.48 L278.81,148.93 L279.40,151.38 L280.00,153.83 L280.61,156.28 L281.24,158.73 L281.89,161.18 L282.55,163.63 L283.23,166.08 L283.94,168.53 L284.66,170.98 L285.41,173.43 L286.18,175.88 L286.18,175.88 L288.53,182.78 L290.85,188.92 L293.16,194.38 L295.45,199.22 L297.74,203.53 L300.02,207.36 L302.29,210.76 L304.55,213.78 L306.82,216.47 L309.08,218.86 L311.33,220.98 L313.59,222.86 L315.84,224.54 L318.09,226.03 L320.35,227.35 L322.60,228.52 L324.85,229.57 L327.10,230.50 L329.35,231.32 L331.60,232.05 L333.85,232.70 L336.10,233.28 L338.35,233.80 L340.60,234.25 L342.85,234.66 L345.09,235.02 L347.34,235.34 L349.59,235.63 L351.84,235.88 L354.09,236.10 L356.34,236.30 L358.59,236.48 L360.84,236.64 L363.08,236.78 L365.33,236.91 L367.58,237.02 L369.83,237.11 L372.08,237.20 L374.33,237.28" fill="none" stroke="#000" stroke-width="1.7" stroke-dasharray="8 5"/>
<path clip-path="url(#c2)" d="M117.27,464.48 L119.61,464.40 L121.96,464.31 L124.31,464.21 L126.66,464.10 L129.01,463.98 L131.36,463.84 L133.71,463.68 L136.06,463.50 L138.40,463.30 L140.75,463.08 L143.10,462.82 L145.45,462.54 L147.80,462.22 L150.15,461.85 L152.50,461.45 L154.85,460.99 L157.20,460.48 L159.55,459.90 L161.89,459.24 L164.24,458.51 L166.59,457.68 L168.94,456.75 L171.30,455.71 L173.65,454.53 L176.00,453.21 L178.35,451.71 L180.71,450.04 L183.06,448.15 L185.42,446.02 L187.78,443.63 L190.14,440.94 L192.51,437.92 L194.88,434.51 L197.26,430.67 L199.65,426.36 L202.04,421.50 L204.45,416.04 L206.88,409.89 L209.33,402.97 L209.33,402.97 L210.14,400.52 L210.92,398.06 L211.68,395.61 L212.41,393.16 L213.12,390.70 L213.82,388.25 L214.49,385.79 L215.15,383.34 L215.79,380.89 L216.42,378.43 L217.03,375.98 L217.63,373.53 L218.22,371.07 L218.80,368.62 L219.37,366.17 L219.92,363.71 L220.47,361.26 L221.01,358.81 L221.54,356.35 L222.06,353.90 L222.58,351.44 L223.09,348.99 L223.60,346.54 L224.09,344.08 L224.59,341.63 L225.08,339.18 L225.57,336.72 L226.05,334.27 L226.53,331.82 L227.01,329.36 L227.48,326.91 L227.95,324.45 L228.43,322.00 L228.90,319.55 L229.37,317.09 L229.84,314.64 L230.31,312.19 L230.79,309.73 L231.26,307.28 L231.74,304.83 L232.23,302.37 L232.71,299.92 L233.25,297.46 L233.80,295.01 L234.36,292.56 L234.93,290.10 L235.51,287.65 L236.11,285.20 L236.71,282.74 L237.34,280.29 L237.99,277.84 L238.67,275.38 L239.39,272.93 L240.14,270.48 L240.97,268.02 L241.87,265.57 L242.92,263.11 L244.24,260.66 L246.61,258.21 L247.50,258.00 L247.50,258.00 L248.38,258.21 L250.71,260.66 L252.00,263.11 L253.03,265.57 L253.92,268.02 L254.73,270.48 L255.48,272.93 L256.18,275.38 L256.85,277.84 L257.49,280.29 L258.11,282.74 L258.71,285.20 L259.29,287.65 L259.86,290.10 L260.42,292.56 L260.97,295.01 L261.52,297.46 L262.04,299.92 L262.52,302.37 L263.00,304.83 L263.47,307.28 L263.94,309.73 L264.40,312.19 L264.87,314.64 L265.33,317.09 L265.79,319.55 L266.26,322.00 L266.72,324.45 L267.19,326.91 L267.65,329.36 L268.12,331.82 L268.59,334.27 L269.07,336.72 L269.54,339.18 L270.03,341.63 L270.51,344.08 L271.00,346.54 L271.50,348.99 L272.00,351.44 L272.51,353.90 L273.02,356.35 L273.54,358.81 L274.07,361.26 L274.61,363.71 L275.16,366.17 L275.72,368.62 L276.28,371.07 L276.86,373.53 L277.45,375.98 L278.05,378.43 L278.67,380.89 L279.30,383.34 L279.95,385.79 L280.61,388.25 L281.29,390.70 L281.99,393.16 L282.71,395.61 L283.46,398.06 L284.23,400.52 L285.02,402.97 L285.02,402.97 L287.43,409.89 L289.81,416.04 L292.18,421.50 L294.53,426.36 L296.88,430.67 L299.21,434.51 L301.55,437.92 L303.87,440.94 L306.19,443.63 L308.51,446.02 L310.83,448.15 L313.14,450.04 L315.46,451.71 L317.77,453.21 L320.08,454.53 L322.39,455.71 L324.70,456.75 L327.01,457.68 L329.32,458.51 L331.63,459.24 L333.93,459.90 L336.24,460.48 L338.55,460.99 L340.86,461.45 L343.17,461.85 L345.47,462.22 L347.78,462.54 L350.09,462.82 L352.40,463.08 L354.71,463.30 L357.01,463.50 L359.32,463.68 L361.63,463.84 L363.94,463.98 L366.25,464.10 L368.55,464.21 L370.86,464.31 L373.17,464.40 L375.48,464.48" fill="none" stroke="#000" stroke-width="1.7" stroke-dasharray="8 5"/>
<rect x="331" y="11" width="96.5" height="182.5" fill="#000"/>
<rect x="326.5" y="6.3" width="99.5" height="182" fill="#fff" stroke="#888" stroke-width="1"/>
<circle cx="350.1" cy="22.00" r="4.25" fill="url(#g120)"/>
<text x="375.6" y="28.40" font-size="17.8">120 ºC</text>
<circle cx="350.1" cy="44.20" r="4.25" fill="url(#g123)"/>
<text x="375.6" y="50.60" font-size="17.8">123 ºC</text>
<circle cx="350.1" cy="66.40" r="4.25" fill="url(#g125)"/>
<text x="375.6" y="72.80" font-size="17.8">125 ºC</text>
<circle cx="350.1" cy="88.60" r="4.25" fill="url(#g127)"/>
<text x="375.6" y="95.00" font-size="17.8">127 ºC</text>
<circle cx="350.1" cy="110.80" r="4.25" fill="url(#g130)"/>
<text x="375.6" y="117.20" font-size="17.8">130 ºC</text>
<circle cx="350.1" cy="133.00" r="4.25" fill="url(#g133)"/>
<text x="375.6" y="139.40" font-size="17.8">133 ºC</text>
<circle cx="350.1" cy="155.20" r="4.25" fill="url(#g135)"/>
<text x="375.6" y="161.60" font-size="17.8">135 ºC</text>
<circle cx="350.1" cy="177.40" r="4.25" fill="url(#g140)"/>
<text x="375.6" y="183.80" font-size="17.8">140 ºC</text>
</svg></body></html>
